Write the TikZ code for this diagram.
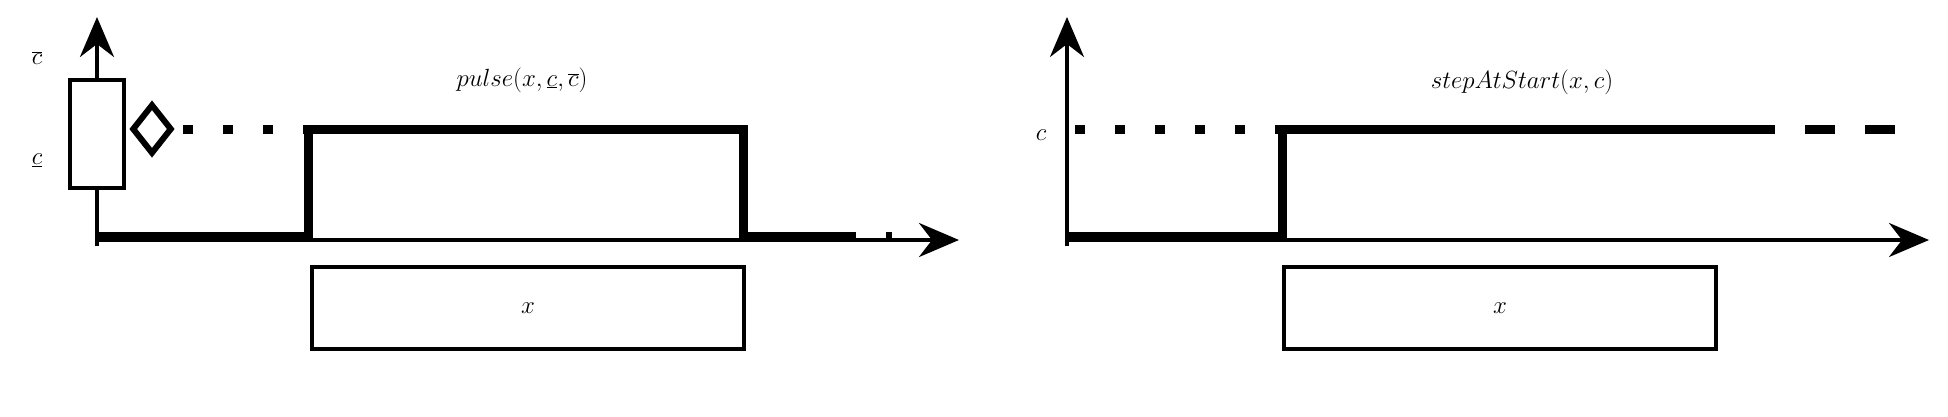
\documentclass[tikz,border=0pt]{standalone}
\usetikzlibrary{arrows.meta,shapes.geometric}
\begin{document}
\begin{tikzpicture}[x=1pt,y=-1pt,
  ax/.style={line width=3.7pt,-{Stealth[length=40pt,width=34pt]}},
  sig/.style={line width=9pt},
  dots/.style={line width=9pt,dash pattern=on 10pt off 30pt},
  dsh/.style={line width=9pt,dash pattern=on 30pt off 30pt},
  box/.style={draw,line width=3.7pt,minimum width=432pt,minimum height=82pt,inner sep=0pt},
  lbl/.style={inner sep=0pt,font=\fontsize{56}{64}\selectfont}]
\useasboundingbox (0,0) rectangle (1948,416);
% left panel
\coordinate (o1) at (97,240);
\draw[ax] (97,246) -- (97,17);
\draw[ax] (97,240) -- (959,240);
\node[draw,line width=3.7pt,fill=white,minimum width=54pt,minimum height=108pt,inner sep=0pt] (rng) at (97,134) {};
\node[lbl] (cb) at (37,58) {$\overline{c}$};
\node[lbl] (cu) at (37,160) {$\underline{c}$};
\node[draw,diamond,line width=6pt,minimum width=40pt,minimum height=50pt,inner sep=0pt] (dm) at (152,129) {};
\coordinate (s1) at (308,236);
\coordinate (h1) at (308,129);
\coordinate (h2) at (743,129);
\coordinate (e1) at (743,236);
\draw[sig] (o1|-s1) -- (s1) -- (h1) -- (h2) -- (e1) -- (826,236);
\draw[dots] (dm.east) ++(8,0) -- (h1);
\draw[dsh] (826,236) -- (892,236);
\node[lbl] (t1) at (522,80) {$pulse(x,\underline{c},\overline{c})$};
\node[box] (x1) at (528,308) {};
\node[lbl] at (x1) {$x$};
% right panel
\draw[ax] (1067,246) -- (1067,17);
\draw[ax] (1067,240) -- (1929,240);
\node[lbl] (c2) at (1041,135) {$c$};
\coordinate (s2) at (1282,236);
\coordinate (h3) at (1282,129);
\coordinate (h4) at (1745,129);
\draw[sig] (1067,236) -- (s2) -- (h3) -- (h4);
\draw[dots] (1075,129) -- (h3);
\draw[dsh] (h4) -- (1905,129);
\node[lbl] (t2) at (1522,82) {$stepAtStart(x,c)$};
\node[box] (x2) at (1500,308) {};
\node[lbl] at (x2) {$x$};
\end{tikzpicture}
\end{document}
